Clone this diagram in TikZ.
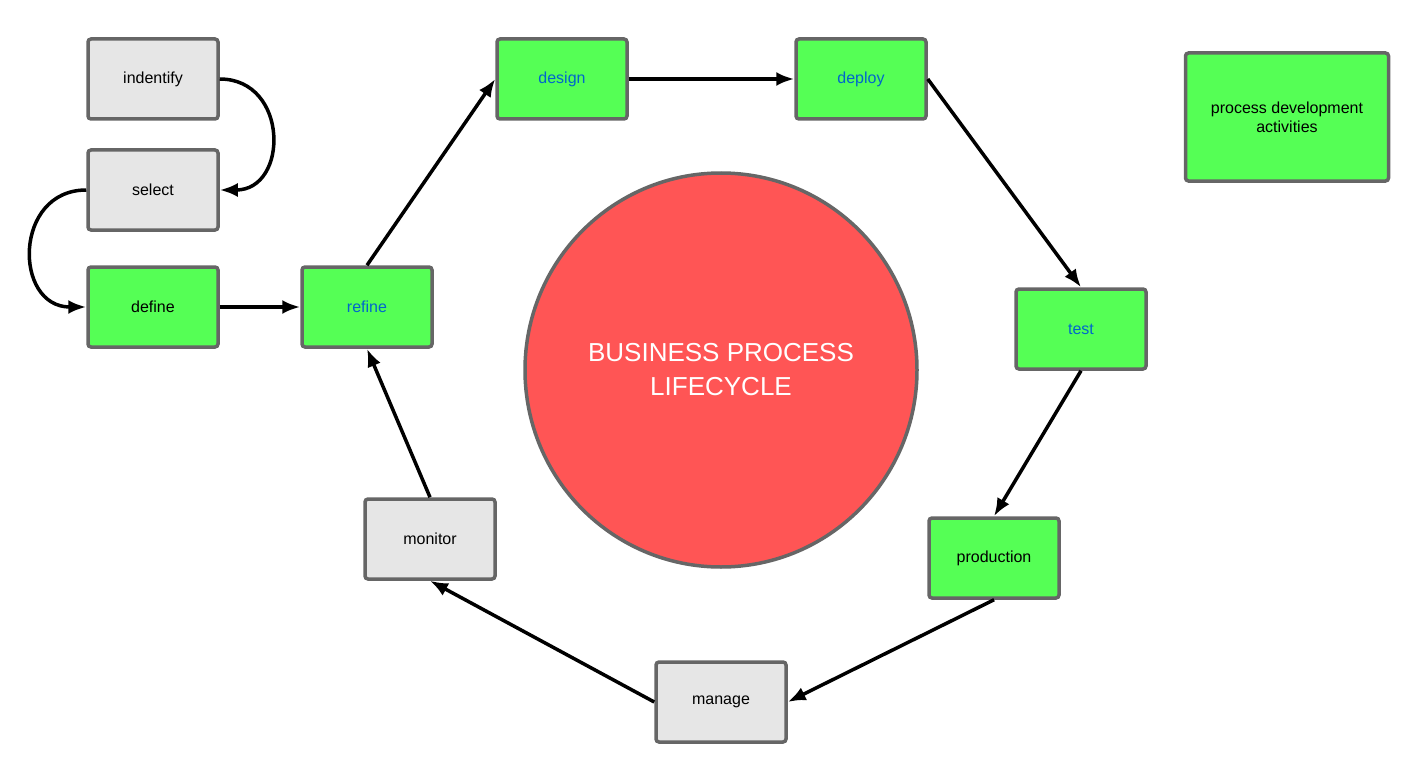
\documentclass[tikz,border=0pt]{standalone}
\usepackage{fontspec}
\setmainfont{Liberation Sans}
\usetikzlibrary{arrows.meta,shapes.geometric}
\definecolor{bd}{HTML}{666666}
\definecolor{gr}{HTML}{55FF55}
\definecolor{gy}{HTML}{E6E6E6}
\definecolor{rd}{HTML}{FF5555}
\definecolor{bl}{HTML}{0066CC}
\begin{document}
\begin{tikzpicture}[x=1pt,y=-1pt,
 box/.style={draw=bd,line width=3.5pt,rounded corners=3pt,minimum width=130pt,minimum height=80pt,inner sep=0pt,font=\fontsize{16}{19}\selectfont,align=center},
 g/.style={box,fill=gr}, h/.style={box,fill=gy},
 b/.style={text=bl},
 ar/.style={line width=3.5pt,-{Latex[length=18pt,width=14pt]}}]
\useasboundingbox (0,0) rectangle (1427,781);
\node[h] (ide) at (153,79) {indentify};
\node[h] (sel) at (153,190) {select};
\node[g] (def) at (153,307) {define};
\node[g,b] (ref) at (367,307) {refine};
\node[g,b] (des) at (562,79) {design};
\node[g,b] (dep) at (861,79) {deploy};
\node[g,b] (tes) at (1081,329) {test};
\node[g] (pro) at (994,558) {production};
\node[h] (man) at (721,702) {manage};
\node[h] (mon) at (430,539) {monitor};
\node[g,minimum width=203pt,minimum height=128pt] (leg) at (1287,117) {process development\\activities};
\node[draw=bd,line width=3.5pt,fill=rd,ellipse,minimum width=392pt,minimum height=394pt,inner sep=0pt,
 text=white,align=center,font=\fontsize{26}{34}\selectfont] (c) at (721,370) {BUSINESS PROCESS\\LIFECYCLE};
\draw[ar] (ide.east) to[out=0,in=0,looseness=1.6] (sel.east);
\draw[ar] (sel.west) to[out=180,in=180,looseness=1.6] (def.west);
\draw[ar] (def) -- (ref);
\draw[ar] (ref.north) -- (des.west);
\draw[ar] (des) -- (dep);
\draw[ar] (dep.east) -- (tes.north);
\draw[ar] (tes.south) -- (pro.north);
\draw[ar] (pro.south) -- (man.east);
\draw[ar] (man.west) -- (mon.south);
\draw[ar] (mon.north) -- (ref.south);
\end{tikzpicture}
\end{document}
